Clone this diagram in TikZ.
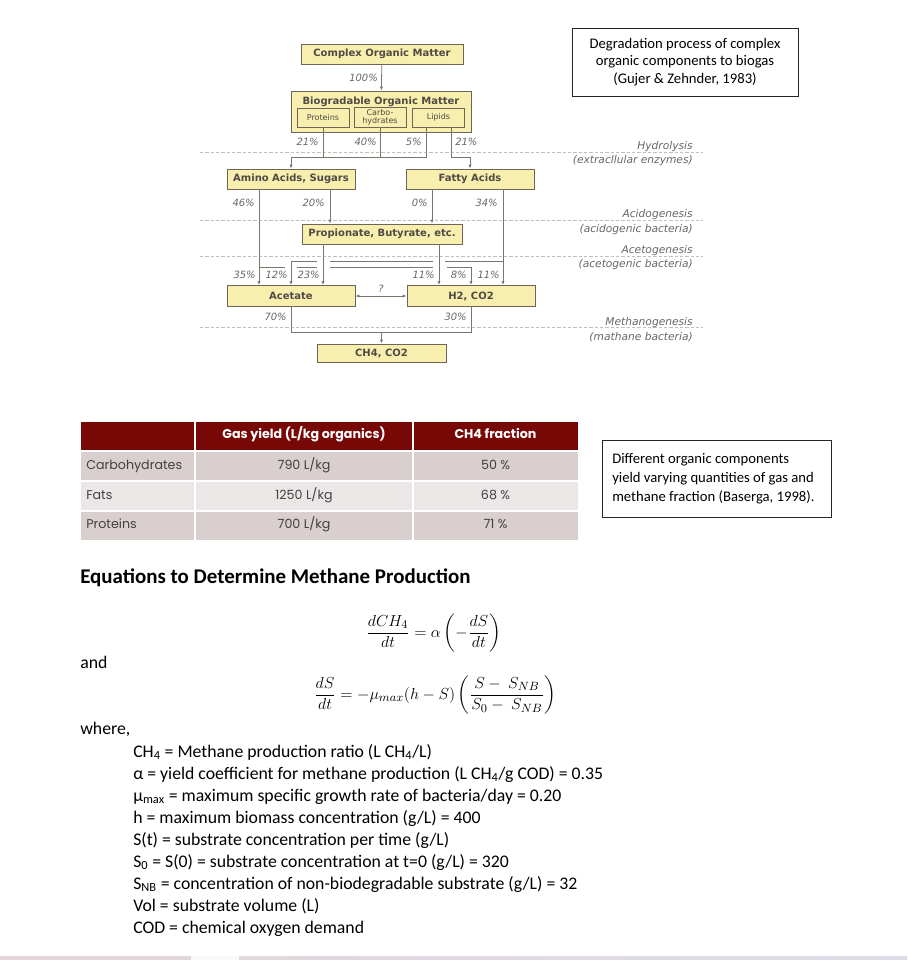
\documentclass[tikz,border=0pt]{standalone}
\usepackage{fontspec}
\usepackage{amsmath}
\setmainfont{Carlito}
\newfontfamily\flowfont{DejaVu Sans}
\newfontfamily\tabfont{Poppins}
\usetikzlibrary{arrows.meta, positioning, calc}

\definecolor{boxfill}{HTML}{F8EFAE}
\definecolor{boxline}{HTML}{6F6458}
\definecolor{flowline}{HTML}{7D746B}
\definecolor{flowtext}{HTML}{4F4A45}
\definecolor{phasetext}{HTML}{666666}
\definecolor{headred}{HTML}{780806}
\definecolor{rowdark}{HTML}{D9CFCF}
\definecolor{rowlight}{HTML}{ECE7E7}
\definecolor{bandleft}{HTML}{E4D6DA}
\definecolor{bandright}{HTML}{DCDCE8}

\begin{document}
\begin{tikzpicture}[
  x=0.75pt, y=-0.75pt,
  wh/.style 2 args = {minimum width=#1*0.75pt, minimum height=#2*0.75pt},
  box/.style     = {draw=boxline, fill=boxfill, line width=0.6pt, inner sep=0pt,
                    font=\flowfont\bfseries\fontsize{7.5}{8.5}\selectfont, text=flowtext},
  subbox/.style  = {box, align=center, font=\flowfont\fontsize{6}{5.8}\selectfont},
  pct/.style     = {inner sep=0pt, text=phasetext, font=\flowfont\itshape\fontsize{7.5}{9}\selectfont},
  phase/.style   = {pct, anchor=east, align=right, font=\flowfont\itshape\fontsize{8}{11}\selectfont},
  flow/.style    = {draw=flowline, line width=0.6pt},
  arrow/.style   = {flow, -{Latex[length=3pt, width=2.4pt]}},
  biarrow/.style = {flow, {Latex[length=3pt, width=2.4pt]}-{Latex[length=3pt, width=2.4pt]}},
  sep/.style     = {draw=gray!50, line width=0.4pt, dash pattern=on 2.5pt off 1.5pt},
  caption/.style = {draw=black!85, line width=0.6pt, inner sep=0pt},
  cell/.style    = {inner sep=0pt, anchor=base, text=black!75, font=\tabfont\fontsize{9.5}{11}\selectfont},
  headcell/.style= {cell, text=white, font=\tabfont\bfseries\fontsize{9.5}{11}\selectfont},
  line/.style    = {inner sep=0pt, anchor=base west, font=\fontsize{13.3}{16}\selectfont}
]
\useasboundingbox (0,0) rectangle (907,960);

% phase separators
\draw[sep] (200,152) -- (703,152);
\draw[sep] (200,220) -- (703,220);
\draw[sep] (200,256) -- (703,256);
\draw[sep] (200,327) -- (703,327);
\node[phase] (hyd)   at (693,153.5) {Hydrolysis\\(extracllular enzymes)};
\node[phase] (acid)  at (693,222)   {Acidogenesis\\(acidogenic bacteria)};
\node[phase] (aceto) at (693,257.5) {Acetogenesis\\(acetogenic bacteria)};
\node[phase] (meth)  at (693,329.5) {Methanogenesis\\(mathane bacteria)};

% boxes
\node[box, wh={162}{20}] (com) at (382,54) {Complex Organic Matter};
\node[box, wh={180}{41}] (bio) at (381,111.5) {};
\node[box, draw=none, fill=none] (biot) at (381,101.5) {Biogradable Organic Matter};
\node[subbox, wh={52}{19}] (pro)  at (323,117.5) {Proteins};
\node[subbox, wh={52}{20}] (carb) at (380,117)   {Carbo-\\hydrates};
\node[subbox, wh={52}{19}] (lip)  at (438.5,117.5) {Lipids};
\node[box, wh={128}{20}] (amino) at (291,179) {Amino Acids, Sugars};
\node[box, wh={128}{20}] (fatty) at (470,179) {Fatty Acids};
\node[box, wh={160}{20}] (prop)  at (382,234) {Propionate, Butyrate, etc.};
\node[box, wh={128}{21}] (acet)  at (291,296) {Acetate};
\node[box, wh={128}{21}] (h2)    at (471,296) {H2, CO2};
\node[box, wh={129}{18}] (ch4)   at (381.5,353) {CH4, CO2};

% hydrolysis
\draw[arrow] (com) -- node[pct, left=2.5pt] {100\%} (bio);
\draw[flow] (pro.south) -- ++(0,30);
\draw[flow] (carb.south) -- ++(0,30);
\draw[arrow] ([xshift=-9.4pt]lip.south) -- ++(0,30) -| (amino.north);
\draw[arrow] ([xshift=9.4pt]lip.south) -- ++(0,30) -| (fatty.north);
\node[pct, anchor=east] at (319,142) {21\%};
\node[pct, anchor=east] at (377,142) {40\%};
\node[pct, anchor=east] at (422,142) {5\%};
\node[pct, anchor=west] at (455,142) {21\%};

% acidogenesis
\draw[arrow] (amino.south -| 259,0) -- (acet.north -| 259,0);
\draw[arrow] (amino.south -| 330,0) -- (prop.north -| 330,0);
\draw[arrow] (fatty.south -| 432,0) -- (prop.north -| 432,0);
\draw[arrow] (fatty.south -| 503,0) -- (h2.north -| 503,0);
\node[pct, anchor=east] at (255,203) {46\%};
\node[pct, anchor=east] at (325,203) {20\%};
\node[pct, anchor=east] at (428,203) {0\%};
\node[pct, anchor=east] at (498,203) {34\%};

% acetogenesis
\draw[arrow] (prop.south -| 323,0) -- (acet.north -| 323,0);
\draw[arrow] (prop.south -| 439,0) -- (h2.north -| 439,0);
\draw[arrow] (317,261) -| (acet.north -| 291,0);
\draw[flow] (330,261) -- (433,261);
\draw[flow] (445,261) -- (503,261);
\draw[flow] (259,267) -- (285,267);
\draw[flow] (297,267) -- (317,267);
\draw[flow] (330,267) -- (433,267);
\draw[arrow] (447,267) -| (h2.north -| 471,0);
\node[pct, anchor=east] at (256,275) {35\%};
\node[pct, anchor=east] at (288,275) {12\%};
\node[pct, anchor=east] at (320,275) {23\%};
\node[pct, anchor=east] at (435,275) {11\%};
\node[pct, anchor=east] at (467,275) {8\%};
\node[pct, anchor=east] at (500,275) {11\%};

% methanogenesis
\draw[biarrow] (acet.east) -- node[pct, above=2pt] {?} (h2.west);
\draw[flow] (acet.south) -- ++(0,25.5) -| (h2.south -| 471,0);
\draw[arrow] (ch4.north |- 0,332) -- (ch4.north);
\node[pct, anchor=east] at (287,317) {70\%};
\node[pct, anchor=east] at (467,317) {30\%};

% captions
\node[caption, wh={226}{68}, align=center, font=\fontsize{11}{13}\selectfont] (cap1) at (685,62)
  {Degradation process of complex\\organic components to biogas\\(Gujer \& Zehnder, 1983)};
\node[caption, wh={229}{77}] (cap2) at (716.5,478.5) {};
\node[inner sep=0pt, anchor=west, align=left, font=\fontsize{11}{14.2}\selectfont] (cap2t) at (612,479)
  {Different organic components\\yield varying quantities of gas and\\methane fraction (Baserga, 1998).};

% table
\fill[headred]  (81,422) rectangle (578,451);
\fill[rowdark]  (81,451) rectangle (578,481);
\fill[rowlight] (81,481) rectangle (578,511);
\fill[rowdark]  (81,511) rectangle (578,540);
\draw[white, line width=1pt] (81,451) -- (578,451) (81,481) -- (578,481) (81,511) -- (578,511)
  (195,422) -- (195,540) (413,422) -- (413,540);
\node[headcell] (hgas) at (304,438) {Gas yield (L/kg organics)};
\node[headcell] (hch4) at (495.5,438) {CH4 fraction};
\node[cell, anchor=base west] (r1) at (86,469) {Carbohydrates};
\node[cell] (r1g) at (304,469) {790 L/kg};
\node[cell] (r1f) at (495.5,469) {50 \%};
\node[cell, anchor=base west] (r2) at (86,499) {Fats};
\node[cell] (r2g) at (304,499) {1250 L/kg};
\node[cell] (r2f) at (495.5,499) {68 \%};
\node[cell, anchor=base west] (r3) at (86,528) {Proteins};
\node[cell] (r3g) at (304,528) {700 L/kg};
\node[cell] (r3f) at (495.5,528) {71 \%};

% equations
\node[line, font=\bfseries\fontsize{15.7}{18}\selectfont] (head) at (80,583) {Equations to Determine Methane Production};
\node[inner sep=0pt, font=\fontsize{12.5}{15}\selectfont] (eq1) at (434,633)
  {$\displaystyle \frac{dCH_4}{dt} = \alpha\left(-\frac{dS}{dt}\right)$};
\node[line] (and) at (80,668) {and};
\node[inner sep=0pt, font=\fontsize{12.5}{15}\selectfont] (eq2) at (435,695)
  {$\displaystyle \frac{dS}{dt} = -\mu_{max}(h-S)\left(\frac{S-\ S_{NB}}{S_0-\ S_{NB}}\right)$};
\node[line] (where) at (80,734) {where,};
\node[line] (w1) at (133,757) {CH\textsubscript{4} = Methane production ratio (L CH\textsubscript{4}/L)};
\node[line] (w2) at (133,779) {α = yield coefficient for methane production (L CH\textsubscript{4}/g COD) = 0.35};
\node[line] (w3) at (133,801) {μ\textsubscript{max} = maximum specific growth rate of bacteria/day = 0.20};
\node[line] (w4) at (133,823) {h = maximum biomass concentration (g/L) = 400};
\node[line] (w5) at (133,845) {S(t) = substrate concentration per time (g/L)};
\node[line] (w6) at (133,867) {S\textsubscript{0} = S(0) = substrate concentration at t=0 (g/L) = 320};
\node[line] (w7) at (133,889) {S\textsubscript{NB} = concentration of non-biodegradable substrate (g/L) = 32};
\node[line] (w8) at (133,911) {Vol = substrate volume (L)};
\node[line] (w9) at (133,933) {COD = chemical oxygen demand};

% page band
\shade[left color=bandleft, right color=bandright] (0,956) rectangle (907,960);
\fill[gray!5] (191,956) rectangle (239,960);
\end{tikzpicture}
\end{document}
